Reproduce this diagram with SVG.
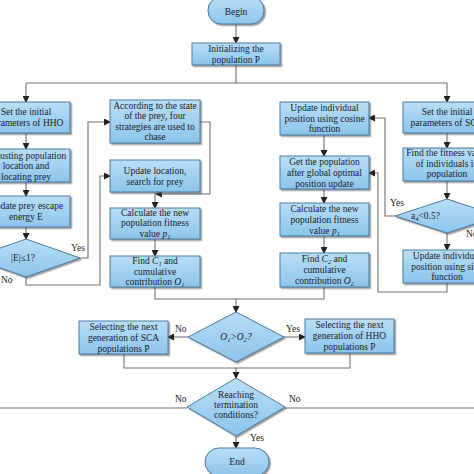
<svg xmlns="http://www.w3.org/2000/svg" width="474" height="474" viewBox="0 0 474 474">
<defs>
<linearGradient id="g" x1="0" y1="0" x2="0" y2="1">
<stop offset="0" stop-color="#b9def6"/>
<stop offset="1" stop-color="#8bc5eb"/>
</linearGradient>
<filter id="sh" x="-10%" y="-10%" width="130%" height="140%">
<feDropShadow dx="1.5" dy="1.5" stdDeviation="0.6" flood-color="#4a4a4a" flood-opacity="0.55"/>
</filter>
<marker id="ah" markerUnits="userSpaceOnUse" markerWidth="7" markerHeight="7" refX="6" refY="3.5" orient="auto">
<path d="M0,0 L7,3.5 L0,7 z" fill="#222"/>
</marker>
</defs>
<style>
.n{fill:url(#g);stroke:#4b7aa0;stroke-width:1;filter:url(#sh)}
.t{font-family:"Liberation Serif","Times New Roman",serif;font-size:9.5px;fill:#1b1b2a;text-anchor:middle}
.l{font-family:"Liberation Serif","Times New Roman",serif;font-size:9.5px;fill:#1b1b2a}
.c{fill:none;stroke:#707070;stroke-width:1.1}
.a{marker-end:url(#ah)}
.i{font-style:italic}
.s{font-size:6.5px}
</style>
<rect width="474" height="474" fill="#ffffff"/>

<g id="connectors">
<path class="c a" d="M236,24 V43"/>
<path class="c" d="M236,65 V83 M26,83 H447"/>
<path class="c a" d="M26,83 V102"/>
<path class="c a" d="M447,83 V102"/>
<path class="c a" d="M26,133 V149"/>
<path class="c a" d="M26,182 V196"/>
<path class="c a" d="M26,227 V239"/>
<path class="c a" d="M80,258 H88 V122 H110"/>
<path class="c a" d="M26,277 V285 H100 V176 H110"/>
<path class="c a" d="M200,122 H210 V194 H156"/>
<path class="c a" d="M155,192 V208"/>
<path class="c a" d="M155,239 V256"/>
<path class="c" d="M155,287 V299 H236"/>
<path class="c a" d="M324,135 V156"/>
<path class="c a" d="M324,189 V203"/>
<path class="c a" d="M324,236 V253"/>
<path class="c" d="M324,287 V299 H236"/>
<path class="c a" d="M447,133 V148"/>
<path class="c a" d="M447,181 V199"/>
<path class="c a" d="M395,216 H385 V118 H369"/>
<path class="c a" d="M447,233 V250"/>
<path class="c a" d="M447,283 V292 H378 V173 H369"/>
<path class="c a" d="M236,299 V312"/>
<path class="c a" d="M188,337 H168"/>
<path class="c a" d="M284,337 H305"/>
<path class="c" d="M124,354 V368 H236 M350,353 V368 H236"/>
<path class="c a" d="M236,368 V378"/>
<path class="c" d="M187,408 H0 M285,408 H474"/>
<path class="c a" d="M236,436 V448"/>
<text class="l" x="71" y="251">Yes</text>
<text class="l" x="1" y="283">No</text>
<text class="l" x="390" y="206">Yes</text>
<text class="l" x="466" y="237">No</text>
<text class="l" x="175" y="332">No</text>
<text class="l" x="286" y="332">Yes</text>
<text class="l" x="175" y="402">No</text>
<text class="l" x="289" y="402">No</text>
<text class="l" x="250" y="441">Yes</text>
</g>

<g id="begin">
<rect class="n" x="208" y="-3" width="56" height="27" rx="13"/>
<text class="t" x="236" y="14.5">Begin</text>
</g>
<g id="init">
<rect class="n" x="192" y="43" width="88" height="22"/>
<text class="t" x="236" y="52">Initializing the</text>
<text class="t" x="236" y="62.5">population P</text>
</g>

<g id="hho-params">
<rect class="n" x="-18" y="102" width="88" height="31"/>
<text class="t" x="26" y="115">Set the initial</text>
<text class="t" x="26" y="126">parameters of HHO</text>
</g>
<g id="hho-adjust">
<rect class="n" x="-18" y="149" width="88" height="33"/>
<text class="t" x="26" y="158.5">Adjusting population</text>
<text class="t" x="26" y="169">location and</text>
<text class="t" x="26" y="179.5">locating prey</text>
</g>
<g id="hho-energy">
<rect class="n" x="-18" y="196" width="88" height="31"/>
<text class="t" x="26" y="209">Update prey escape</text>
<text class="t" x="26" y="220">energy E</text>
</g>
<g id="hho-check">
<polygon class="n" points="26,239 80,258 26,277 -28,258"/>
<text class="t" x="23" y="261">|E|≤1?</text>
</g>

<g id="hho-strategies">
<rect class="n" x="110" y="100" width="90" height="43"/>
<text class="t" x="155" y="108.5">According to the state</text>
<text class="t" x="155" y="119">of the prey, four</text>
<text class="t" x="155" y="129.5">strategies are used to</text>
<text class="t" x="155" y="140">chase</text>
</g>
<g id="hho-search">
<rect class="n" x="110" y="160" width="90" height="32"/>
<text class="t" x="155" y="174">Update location,</text>
<text class="t" x="155" y="185">search for prey</text>
</g>
<g id="hho-fitness">
<rect class="n" x="110" y="208" width="90" height="31"/>
<text class="t" x="155" y="215.5">Calculate the new</text>
<text class="t" x="155" y="226">population fitness</text>
<text class="t" x="155" y="236.5">value <tspan class="i">p</tspan><tspan class="i s" dy="2">1</tspan></text>
</g>
<g id="hho-contribution">
<rect class="n" x="110" y="256" width="90" height="31"/>
<text class="t" x="155" y="263.5">Find <tspan class="i">C</tspan><tspan class="i s" dy="2">1</tspan><tspan dy="-2"> and</tspan></text>
<text class="t" x="155" y="274.5">cumulative</text>
<text class="t" x="155" y="285">contribution <tspan class="i">O</tspan><tspan class="i s" dy="2">1</tspan></text>
</g>

<g id="sca-cosine">
<rect class="n" x="280" y="102" width="89" height="33"/>
<text class="t" x="324.5" y="110.5">Update individual</text>
<text class="t" x="324.5" y="121.5">position using cosine</text>
<text class="t" x="324.5" y="132">function</text>
</g>
<g id="sca-global">
<rect class="n" x="280" y="156" width="89" height="33"/>
<text class="t" x="324.5" y="165">Get the population</text>
<text class="t" x="324.5" y="176">after global optimal</text>
<text class="t" x="324.5" y="187">position update</text>
</g>
<g id="sca-fitness">
<rect class="n" x="280" y="203" width="89" height="33"/>
<text class="t" x="324.5" y="211.5">Calculate the new</text>
<text class="t" x="324.5" y="222.5">population fitness</text>
<text class="t" x="324.5" y="233.5">value <tspan class="i">p</tspan><tspan class="i s" dy="2">1</tspan></text>
</g>
<g id="sca-contribution">
<rect class="n" x="280" y="253" width="89" height="34"/>
<text class="t" x="324.5" y="262">Find <tspan class="i">C</tspan><tspan class="i s" dy="2">2</tspan><tspan dy="-2"> and</tspan></text>
<text class="t" x="324.5" y="273">cumulative</text>
<text class="t" x="324.5" y="284">contribution <tspan class="i">O</tspan><tspan class="i s" dy="2">2</tspan></text>
</g>

<g id="sca-params">
<rect class="n" x="403" y="102" width="88" height="31"/>
<text class="t" x="447" y="115">Set the initial</text>
<text class="t" x="447" y="126">parameters of SCA</text>
</g>
<g id="sca-fitness-init">
<rect class="n" x="403" y="148" width="88" height="33"/>
<text class="t" x="447" y="156">Find the fitness value</text>
<text class="t" x="447" y="166.5">of individuals in</text>
<text class="t" x="447" y="177">population</text>
</g>
<g id="sca-check">
<polygon class="n" points="447,199 499,216 447,233 395,216"/>
<text class="l" x="411" y="219">a<tspan class="s" dy="2">4</tspan><tspan dy="-2">&lt;0.5?</tspan></text>
</g>
<g id="sca-sine">
<rect class="n" x="403" y="250" width="88" height="33"/>
<text class="t" x="447" y="259">Update individual</text>
<text class="t" x="447" y="269.5">position using sine</text>
<text class="t" x="447" y="280">function</text>
</g>

<g id="compare">
<polygon class="n" points="236,312 284,337 236,362 188,337"/>
<text class="t i" x="236" y="340">O<tspan class="s" dy="2">1</tspan><tspan dy="-2">&gt;O</tspan><tspan class="s" dy="2">2</tspan><tspan dy="-2">?</tspan></text>
</g>
<g id="select-sca">
<rect class="n" x="79" y="321" width="89" height="33"/>
<text class="t" x="123.5" y="329.5">Selecting the next</text>
<text class="t" x="123.5" y="340.5">generation of SCA</text>
<text class="t" x="123.5" y="351.5">populations P</text>
</g>
<g id="select-hho">
<rect class="n" x="305" y="319" width="89" height="34"/>
<text class="t" x="349.5" y="328">Selecting the next</text>
<text class="t" x="349.5" y="339">generation of HHO</text>
<text class="t" x="349.5" y="350">populations P</text>
</g>
<g id="termination">
<polygon class="n" points="236,378 285,407 236,436 187,407"/>
<text class="t" x="236" y="398">Reaching</text>
<text class="t" x="236" y="408">termination</text>
<text class="t" x="236" y="417.5">conditions?</text>
</g>
<g id="end">
<rect class="n" x="205" y="448" width="64" height="28" rx="14"/>
<text class="t" x="237" y="465">End</text>
</g>
</svg>
